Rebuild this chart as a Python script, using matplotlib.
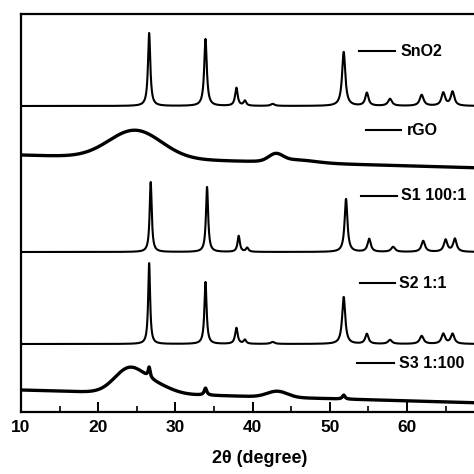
import numpy as np
import matplotlib
matplotlib.use("Agg")
import matplotlib.pyplot as plt

plt.rcParams['font.family'] = ['Liberation Sans', 'DejaVu Sans']

# ---- data ----
names = ["SnO2", "rGO", "S1 100:1", "S2 1:1", "S3 1:100"]
offsets = [306, 257, 160, 68, 22]           # baseline level at 2θ=10
end_levels = [306, 244, 160, 68, 9]         # baseline level at 2θ=70

# sharp (Lorentzian) peaks: position, height, half width
snO2_pos = [26.6, 33.9, 37.9, 39.0, 42.6, 51.8, 54.8, 57.8, 61.9, 64.7, 65.9]
snO2_h   = [73, 67, 18, 5, 2, 54, 13, 7, 11, 13, 14]
snO2_w   = [0.18, 0.2, 0.2, 0.2, 0.3, 0.25, 0.25, 0.3, 0.3, 0.28, 0.28]

s1_pos = [26.8, 34.1, 38.2, 39.3, 52.1, 55.1, 58.2, 62.1, 65.0, 66.2]
s1_h   = [70, 65, 16, 4, 53, 13, 5, 11, 12, 13]
s1_w   = [0.16, 0.17, 0.18, 0.2, 0.22, 0.25, 0.3, 0.28, 0.27, 0.27]

s2_pos = [26.6, 33.9, 37.9, 39.0, 42.6, 51.8, 54.8, 57.8, 61.9, 64.7, 65.9]
s2_h   = [81, 62, 16, 4, 2, 47, 10, 4, 8, 10, 10]
s2_w   = [0.15, 0.17, 0.2, 0.2, 0.3, 0.24, 0.25, 0.3, 0.3, 0.28, 0.28]

s3_pos = [26.6, 33.9, 51.8]
s3_h   = [10, 7, 4]
s3_w   = [0.15, 0.2, 0.2]

rgo_pos = []
rgo_h = []
rgo_w = []

# broad (Gaussian) humps: position, height, sigma
rgo_hump_pos = [24.8, 43.0, 45.5]
rgo_hump_h   = [28, 7, 3]
rgo_hump_s   = [3.4, 0.9, 2.5]

s3_hump_pos = [24.0, 27.5, 43.2]
s3_hump_h   = [24, 8, 6]
s3_hump_s   = [1.9, 2.0, 1.3]

sharp = [(snO2_pos, snO2_h, snO2_w), (rgo_pos, rgo_h, rgo_w),
         (s1_pos, s1_h, s1_w), (s2_pos, s2_h, s2_w), (s3_pos, s3_h, s3_w)]
broad = [([], [], []), (rgo_hump_pos, rgo_hump_h, rgo_hump_s),
         ([], [], []), ([], [], []), (s3_hump_pos, s3_hump_h, s3_hump_s)]
widths = [1.5, 2.4, 1.5, 1.5, 2.4]

# label positions: line start, line end, text x, y
label_x0 = [53.8, 54.7, 54.0, 53.9, 53.5]
label_x1 = [58.4, 59.2, 58.7, 58.4, 58.3]
label_tx = [59.2, 60.0, 59.2, 59.0, 59.0]
label_y  = [361, 282, 216, 129, 49]

xticks = [10, 20, 30, 40, 50, 60]
xticks_minor = [15, 25, 35, 45, 55, 65]

# ---- figure ----
W = 474
fig = plt.figure(figsize=(W / 100, W / 100), dpi=100)
ppd = 7.72  # px per degree
ax = fig.add_axes([21 / W, (W - 412) / W, 60 * ppd / W, 398 / W])

x = np.linspace(10, 70, 4000)
for i in range(len(names)):
    y = offsets[i] + (end_levels[i] - offsets[i]) * (x - 10) / 60.0
    for p, h, w in zip(*sharp[i]):
        y = y + h * w**2 / ((x - p) ** 2 + w**2)
    for p, h, s in zip(*broad[i]):
        y = y + h * np.exp(-0.5 * ((x - p) / s) ** 2)
    ax.plot(x, y, color='black', lw=widths[i])
    ax.plot([label_x0[i], label_x1[i]], [label_y[i], label_y[i]], color='black', lw=1.5)
    ax.text(label_tx[i], label_y[i], names[i], fontsize=11.5, fontweight='bold',
            va='center', ha='left')

ax.set_xlim(10, 70)
ax.set_ylim(0, 398)
ax.set_yticks([])
ax.set_xticks(xticks)
ax.set_xticks(xticks_minor, minor=True)
ax.tick_params(axis='x', which='major', direction='in', length=7, width=1.4,
               labelsize=12.5, pad=6)
ax.tick_params(axis='x', which='minor', direction='in', length=4, width=1.2)
for lab in ax.get_xticklabels():
    lab.set_fontweight('bold')
for sp in ax.spines.values():
    sp.set_linewidth(1.6)
ax.set_xlabel("2θ (degree)", fontsize=13, fontweight='bold')
ax.xaxis.set_label_coords((260 - 21) / (60 * ppd), -0.095)

fig.savefig("out.png", dpi=100)
